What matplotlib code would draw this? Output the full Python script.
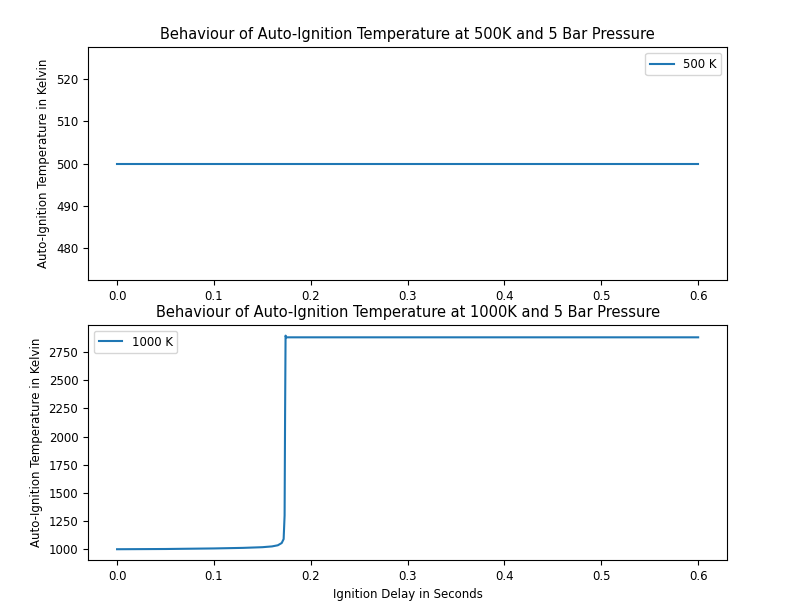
import matplotlib
matplotlib.use("Agg")
import matplotlib.pyplot as plt
from matplotlib.ticker import MultipleLocator

plt.rcParams['font.size'] = 8.5

t1 = [0.0, 0.6]
T1 = [500.0, 500.0]

t2 = [0.0, 0.05, 0.10, 0.13, 0.15, 0.16, 0.166, 0.170, 0.172, 0.1730, 0.1735, 0.1740, 0.1745, 0.18, 0.3, 0.6]
T2 = [1000, 1002, 1007, 1012, 1018, 1025, 1035, 1055, 1090, 1300, 2200, 2895, 2880, 2880, 2880, 2880]

fig = plt.figure(figsize=(8, 6.04), dpi=100)
ax1 = fig.add_axes([0.11, 0.536, 0.799, 0.386])
ax2 = fig.add_axes([0.11, 0.073, 0.799, 0.389])
ax1.plot(t1, T1, label="500 K")
ax1.set_title("Behaviour of Auto-Ignition Temperature at 500K and 5 Bar Pressure", fontsize=10.5)
ax1.set_ylabel("Auto-Ignition Temperature in Kelvin")
ax1.legend()

ax2.plot(t2, T2, label="1000 K")
ax2.yaxis.set_major_locator(MultipleLocator(250))
ax2.set_title("Behaviour of Auto-Ignition Temperature at 1000K and 5 Bar Pressure", fontsize=10.5)
ax2.set_ylabel("Auto-Ignition Temperature in Kelvin")
ax2.set_xlabel("Ignition Delay in Seconds")
ax2.legend(loc="upper left")

fig.savefig("out.png")
